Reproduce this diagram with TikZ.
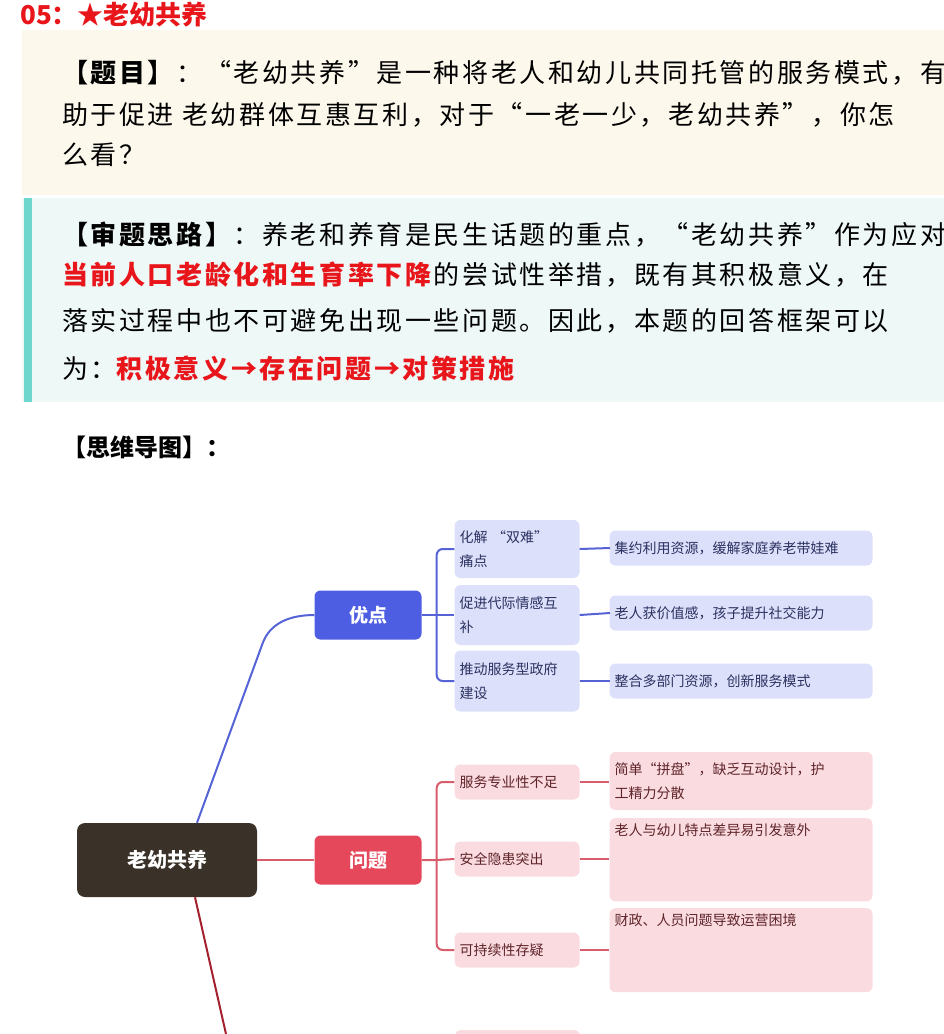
\documentclass[tikz,border=0pt]{standalone}
\usepackage{fontspec}
\setmainfont{Noto Sans CJK SC}
\usetikzlibrary{positioning}
\definecolor{titlered}{HTML}{E8151B}
\definecolor{beige}{HTML}{FDF8EC}
\definecolor{lightcyan}{HTML}{EEF8F7}
\definecolor{teal}{HTML}{6FD6CD}
\definecolor{rootbg}{HTML}{3A3128}
\definecolor{bluemain}{HTML}{4D5EE2}
\definecolor{bluelight}{HTML}{DCE0FA}
\definecolor{blueline}{HTML}{5563D6}
\definecolor{redmain}{HTML}{E5485B}
\definecolor{redlight}{HTML}{FADBDF}
\definecolor{redline}{HTML}{D85C6B}
\definecolor{darkred}{HTML}{A3202C}
\definecolor{bluetext}{HTML}{2B3160}
\definecolor{redtext}{HTML}{5E242A}
\begin{document}
\begin{tikzpicture}[x=1pt,y=-1pt,
    % Text styles
    bigtext/.style={anchor=west, inner sep=0pt, font=\fontsize{26}{30}\selectfont\addfontfeatures{LetterSpace=10}},
    % Mind map boxes
    rootbox/.style={fill=rootbg, rounded corners=8, minimum width=180, minimum height=74,
        text=white, font=\fontsize{20}{24}\selectfont\bfseries},
    mainbox/.style={rounded corners=6, minimum width=107, minimum height=49,
        text=white, font=\fontsize{19}{22}\selectfont\bfseries},
    subbox/.style={rounded corners=6, minimum width=125, text width=115, inner sep=5,
        align=left, font=\fontsize{14}{24}\selectfont},
    leafbox/.style={rounded corners=6, minimum width=263, text width=253, inner sep=5,
        align=left, font=\fontsize{14}{24}\selectfont},
    bluesub/.style={fill=bluelight, text=bluetext},
    redsub/.style={fill=redlight, text=redtext},
    link/.style={line width=2pt}
    ]
    \useasboundingbox (0,0) rectangle (944,1034);
    \clip (0,0) rectangle (944,1034);

    % Heading and text panels
    \node[anchor=west, inner sep=0pt, text=titlered, font=\fontsize{26}{30}\selectfont\bfseries] (title) at (20,15) {05：★老幼共养};
    \fill[beige] (22,30) rectangle (944,195);
    \node[bigtext] (q1) at (62,73) {\textbf{【题目】}：“老幼共养”是一种将老人和幼儿共同托管的服务模式，有};
    \node[bigtext] (q2) at (62,115) {助于促进 老幼群体互惠互利，对于“一老一少，老幼共养”，你怎};
    \node[bigtext] (q3) at (62,155) {么看？};

    \fill[lightcyan] (22,198) rectangle (944,402);
    \fill[teal] (24,198) rectangle (32,402);
    \node[bigtext] (s1) at (62,235) {\textbf{【审题思路】}：养老和养育是民生话题的重点，“老幼共养”作为应对};
    \node[bigtext] (s2) at (62,275) {\textcolor{titlered}{\textbf{当前人口老龄化和生育率下降}}的尝试性举措，既有其积极意义，在};
    \node[bigtext] (s3) at (62,321) {落实过程中也不可避免出现一些问题。因此，本题的回答框架可以};
    \node[bigtext] (s4) at (62,368) {为：\textcolor{titlered}{\textbf{积极意义→存在问题→对策措施}}};
    \node[anchor=west, inner sep=0pt, font=\fontsize{24}{28}\selectfont\bfseries] (mm) at (62,447) {【思维导图】：};

    % Mind map nodes
    \node[rootbox] (root) at (167,860) {老幼共养};
    \node[mainbox, fill=bluemain] (good) at (368,615) {优点};
    \node[mainbox, fill=redmain] (prob) at (368,860) {问题};

    \node[subbox, bluesub, minimum height=58] (g1) at (517,549) {化解 “双难”\\痛点};
    \node[subbox, bluesub, minimum height=60] (g2) at (517,615) {促进代际情感互\\补};
    \node[subbox, bluesub, minimum height=61] (g3) at (517,681) {推动服务型政府\\建设};
    \node[leafbox, bluesub, minimum height=35] (g1l) at (741,548) {集约利用资源，缓解家庭养老带娃难};
    \node[leafbox, bluesub, minimum height=35] (g2l) at (741,613) {老人获价值感，孩子提升社交能力};
    \node[leafbox, bluesub, minimum height=35] (g3l) at (741,681) {整合多部门资源，创新服务模式};

    \node[subbox, redsub, minimum height=35] (p1) at (517,782) {服务专业性不足};
    \node[subbox, redsub, minimum height=35] (p2) at (517,859) {安全隐患突出};
    \node[subbox, redsub, minimum height=35] (p3) at (517,950) {可持续性存疑};
    \node[leafbox, redsub, minimum height=58] (p1l) at (741,781) {简单“拼盘”，缺乏互动设计，护\\工精力分散};
    \node[leafbox, redsub, minimum height=82, anchor=north] (p2l) at (741,818) {老人与幼儿特点差异易引发意外\\[30pt]\strut};
    \node[leafbox, redsub, minimum height=84, anchor=north] (p3l) at (741,908) {财政、人员问题导致运营困境\\[30pt]\strut};
    \fill[redlight, rounded corners=6] (455,1030) rectangle (580,1060);

    % Connectors
    \draw[link, blueline] ([xshift=30]root.north) -- (262,645) to[out=72,in=180] (good.west);
    \draw[link, redline] (root.east) -- (prob.west);
    \coordinate (rootdown) at (226,1034);
    \draw[link, darkred] ([xshift=28]root.south) -- (rootdown);

    \coordinate (gj) at ([xshift=15]good.east);
    \draw[link, blueline] (good.east) -- (gj) -- (g2.west);
    \draw[link, blueline, rounded corners=6] (g1.west) -| (gj) |- (g3.west);
    \coordinate (pj) at ([xshift=15]prob.east);
    \draw[link, redline] (prob.east) -- (pj) -- (p2.west);
    \draw[link, redline, rounded corners=6] (p1.west) -| (pj) |- (p3.west);

    \foreach \a in {1,2,3} {
        \draw[link, blueline] (g\a.east) -- (g\a l.west -| 610,0);
        \draw[link, redline] (p\a.east) -- (p\a.east -| p\a l.west);
    }
\end{tikzpicture}
\end{document}
